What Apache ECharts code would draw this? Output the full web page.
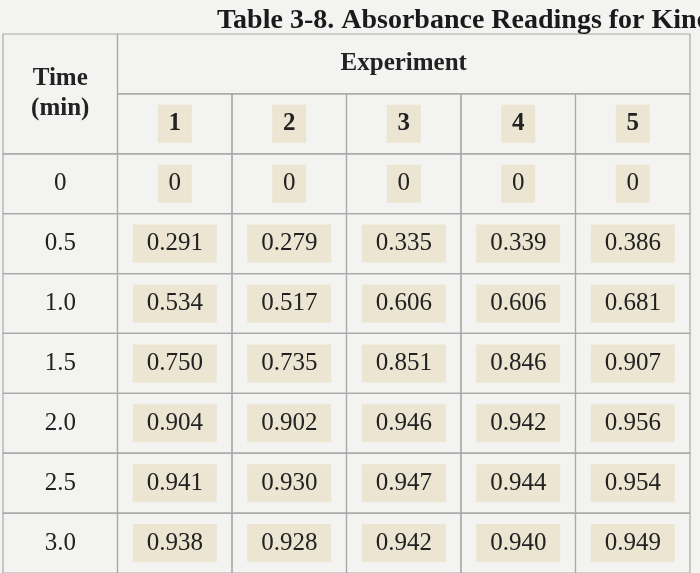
<!DOCTYPE html>
<html><head><meta charset="utf-8">
<script src="https://cdn.jsdelivr.net/npm/echarts@6/dist/echarts.min.js"></script>
<style>html,body{margin:0;padding:0;background:#f3f3f1}#c{width:700px;height:573px}</style>
</head><body><div id="c"></div>
<script>
var titleText = 'Table 3-8. Absorbance Readings for Kine';
var experiments = ['1', '2', '3', '4', '5'];
var times = ['0', '0.5', '1.0', '1.5', '2.0', '2.5', '3.0'];
var exp1 = ['0', '0.291', '0.534', '0.750', '0.904', '0.941', '0.938'];
var exp2 = ['0', '0.279', '0.517', '0.735', '0.902', '0.930', '0.928'];
var exp3 = ['0', '0.335', '0.606', '0.851', '0.946', '0.947', '0.942'];
var exp4 = ['0', '0.339', '0.606', '0.846', '0.942', '0.944', '0.940'];
var exp5 = ['0', '0.386', '0.681', '0.907', '0.956', '0.954', '0.949'];
var cols = [exp1, exp2, exp3, exp4, exp5];

// cells: [x0, x1, y0, y1, text, bold, highlight]
var cells = [];
cells.push([0, 1, 0, 2, 'Time\n(min)', true, false]);
cells.push([1, 6, 0, 1, 'Experiment', true, false]);
experiments.forEach(function (e, i) { cells.push([i + 1, i + 2, 1, 2, e, true, true]); });
times.forEach(function (t, r) {
  cells.push([0, 1, r + 2, r + 3, t, false, false]);
  cols.forEach(function (c, i) { cells.push([i + 1, i + 2, r + 2, r + 3, c[r], false, true]); });
});

var chart = echarts.init(document.getElementById('c'));
chart.setOption({
  backgroundColor: '#f3f3f1',
  title: {
    text: titleText, left: 212, top: 2,
    textStyle: {fontFamily: 'Liberation Serif', fontSize: 28, fontWeight: 'bold', color: '#1a1a1a'}
  },
  grid: {left: 3, right: 10, top: 34, bottom: -14},
  xAxis: {type: 'value', min: 0, max: 6, show: false},
  yAxis: {type: 'value', min: 0, max: 9, inverse: true, show: false},
  series: [{
    type: 'custom',
    data: cells,
    renderItem: function (params, api) {
      var p0 = api.coord([api.value(0), api.value(2)]);
      var p1 = api.coord([api.value(1), api.value(3)]);
      var d = cells[params.dataIndex];
      var cx = (p0[0] + p1[0]) / 2, cy = (p0[1] + p1[1]) / 2;
      var children = [{
        type: 'rect',
        shape: {x: p0[0], y: p0[1], width: p1[0] - p0[0], height: p1[1] - p0[1]},
        style: {fill: 'transparent', stroke: '#a9a9a9', lineWidth: 1.2}
      }];
      if (d[6]) {
        var w = d[4].length > 2 ? 84 : 34;
        children.push({type: 'rect', shape: {x: cx - w / 2, y: cy - 19, width: w, height: 38},
          style: {fill: '#ece5d2'}});
      }
      children.push({
        type: 'text', x: cx, y: cy,
        style: {text: d[4], align: 'center', verticalAlign: 'middle',
          font: (d[5] ? 'bold ' : '') + '25px "Liberation Serif"', lineHeight: 30, fill: '#222'}
      });
      return {type: 'group', children: children};
    }
  }]
});
</script></body></html>
